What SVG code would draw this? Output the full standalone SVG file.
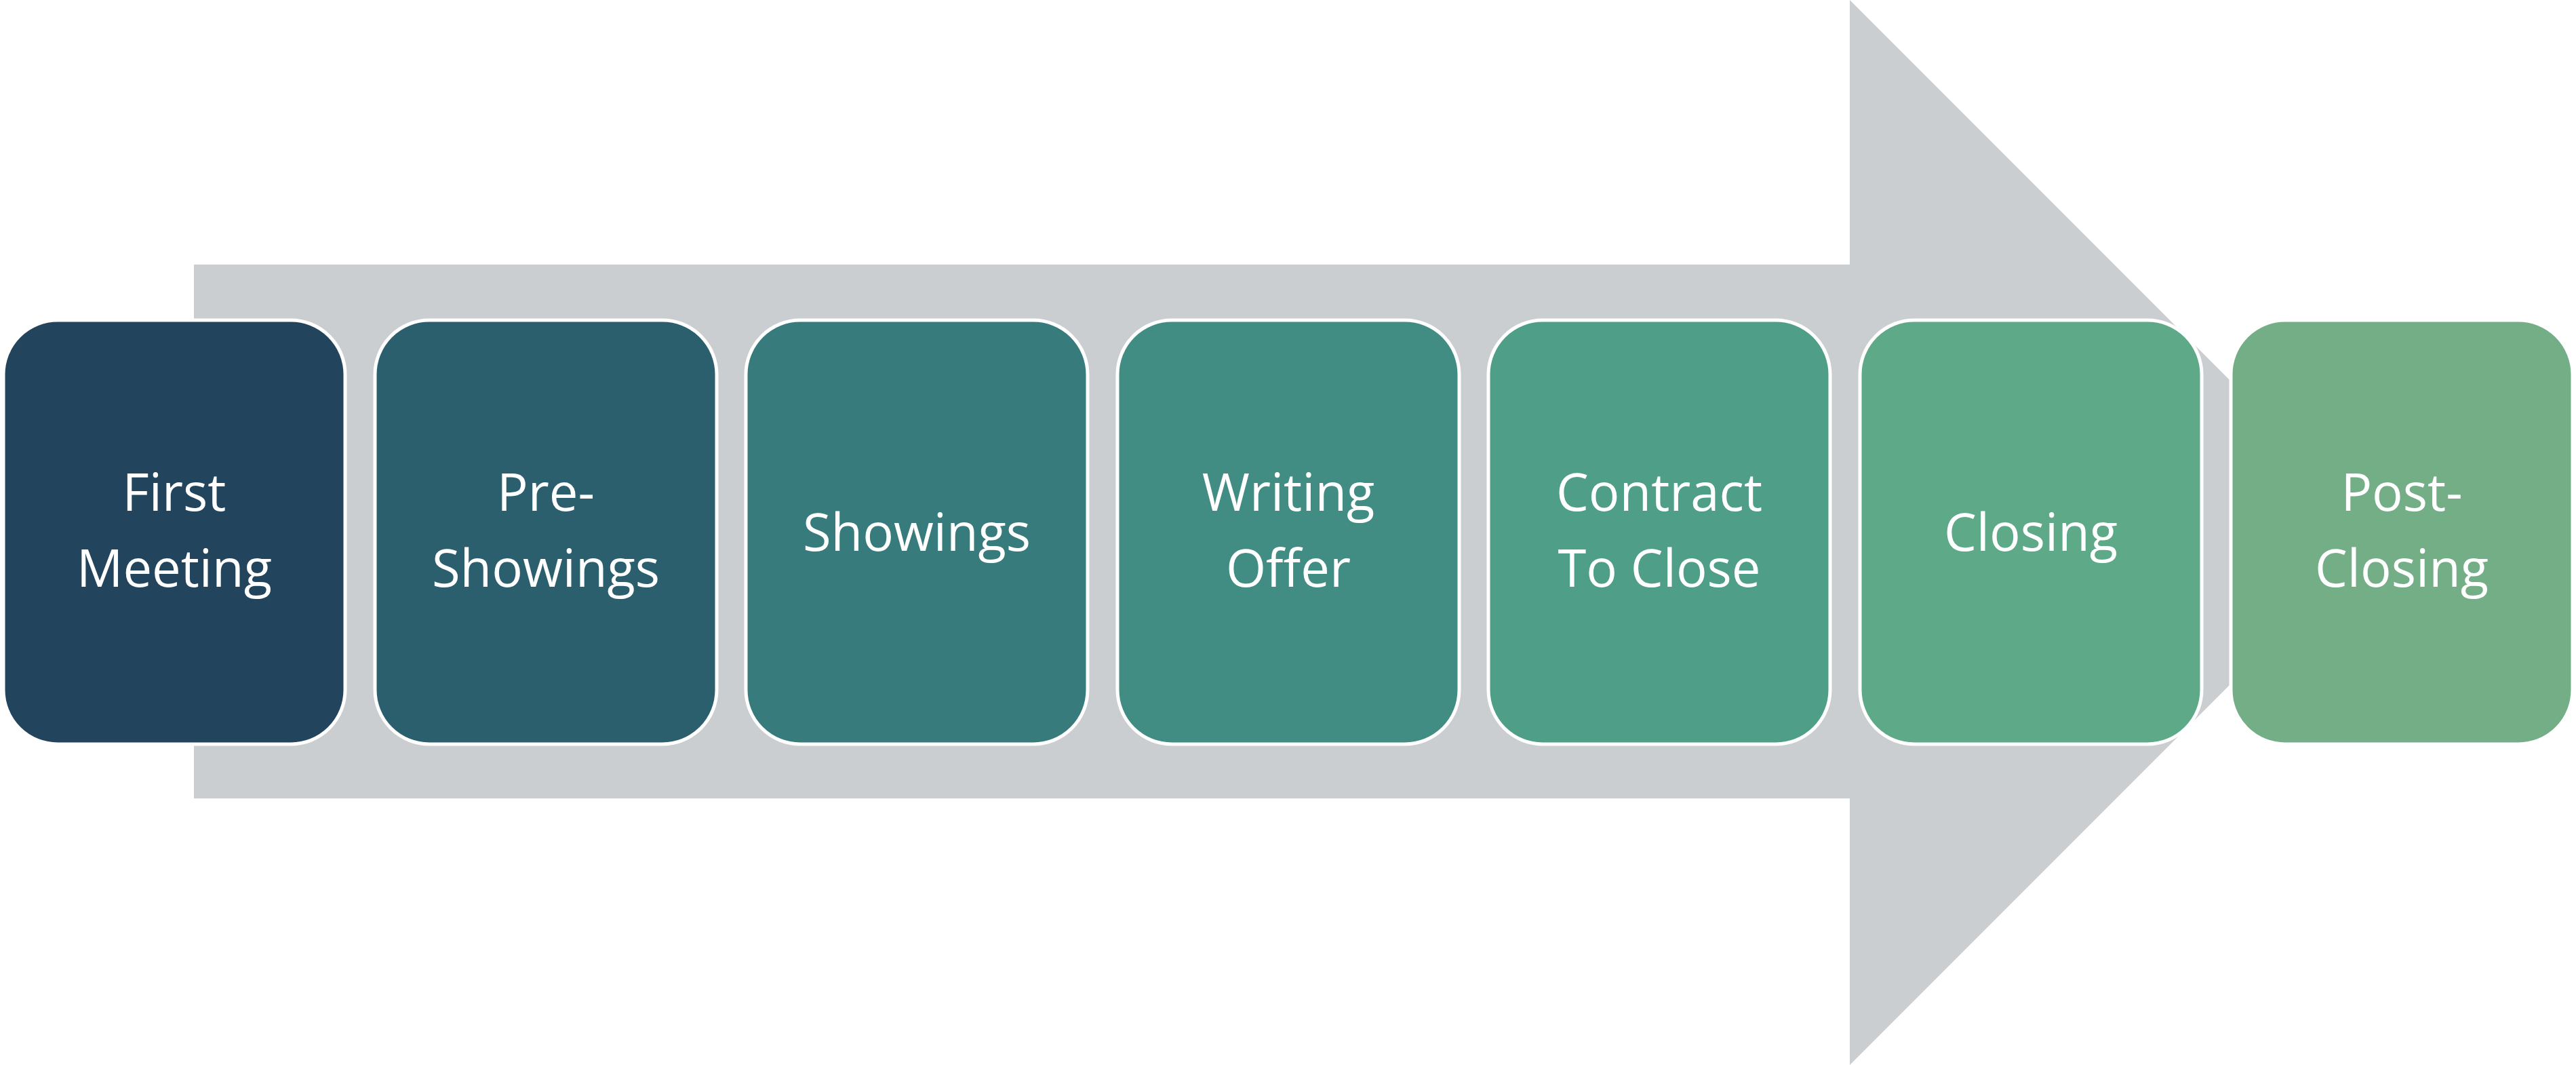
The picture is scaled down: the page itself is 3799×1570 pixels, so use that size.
<svg xmlns="http://www.w3.org/2000/svg" width="3799" height="1570" viewBox="0 0 3799 1570">
<style>
.b{stroke:#ffffff;stroke-width:5}
.t{font-family:"Open Sans","Liberation Sans",sans-serif;font-size:76px;fill:#ffffff;text-anchor:middle}
</style>
<rect width="3799" height="1570" fill="#ffffff"/>
<g id="arrow"><polygon points="286,390 2728,390 2728,0 3288,560 3288,1010 2728,1570 2728,1177 286,1177" fill="#CBCED1"/></g>
<g id="connectors"></g>
<g id="n1"><rect class="b" x="5" y="472" width="504" height="625" rx="80" fill="#23445D"/><text class="t" x="257" y="753">First</text><text class="t" x="257" y="865">Meeting</text></g>
<g id="n2"><rect class="b" x="553" y="472" width="504" height="625" rx="80" fill="#2C5F6E"/><text class="t" x="805" y="753">Pre-</text><text class="t" x="805" y="865">Showings</text></g>
<g id="n3"><rect class="b" x="1100" y="472" width="504" height="625" rx="80" fill="#377B7D"/><text class="t" x="1352" y="812">Showings</text></g>
<g id="n4"><rect class="b" x="1648" y="472" width="504" height="625" rx="80" fill="#418D83"/><text class="t" x="1900" y="753">Writing</text><text class="t" x="1900" y="865">Offer</text></g>
<g id="n5"><rect class="b" x="2195" y="472" width="504" height="625" rx="80" fill="#4F9E87"/><text class="t" x="2447" y="753">Contract</text><text class="t" x="2447" y="865">To Close</text></g>
<g id="n6"><rect class="b" x="2743" y="472" width="504" height="625" rx="80" fill="#5EA987"/><text class="t" x="2995" y="812">Closing</text></g>
<g id="n7"><rect class="b" x="3290" y="472" width="504" height="625" rx="80" fill="#74AE86"/><text class="t" x="3542" y="753">Post-</text><text class="t" x="3542" y="865">Closing</text></g>
</svg>
